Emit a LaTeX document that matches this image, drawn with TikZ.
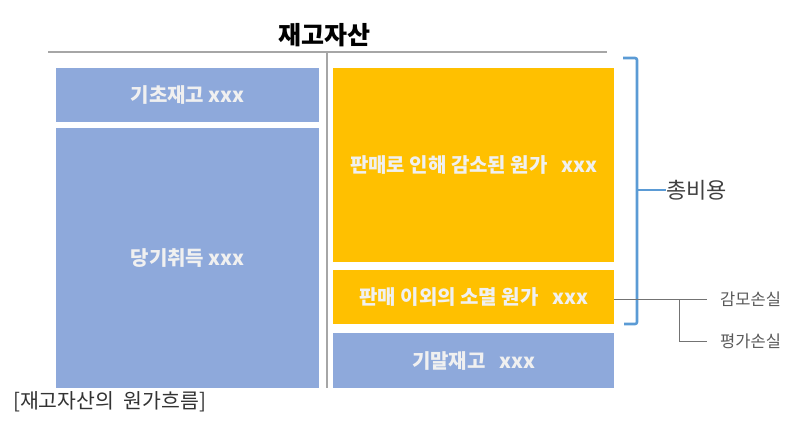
\documentclass[tikz,border=0pt]{standalone}
\usepackage{fontspec}
\setmainfont{Noto Sans CJK KR}
\usetikzlibrary{positioning}

\definecolor{boxblue}{HTML}{8EA9DB}
\definecolor{boxgold}{HTML}{FFC000}
\definecolor{brblue}{HTML}{5B9BD5}

\begin{document}
\begin{tikzpicture} [x = 1pt, y = -1pt,
  box/.style = {fill = #1, text = white!94!black, inner sep = 0pt, anchor = north west,
    font = \fontsize{20}{24}\selectfont\bfseries},
  lbl/.style = {text = black!65, inner sep = 0pt, anchor = west, font = \fontsize{16.5}{20}\selectfont},
  rule/.style = {draw = black!35, line width = 1.4pt}]
\useasboundingbox (0,0) rectangle (800,421);
% 제목과 구분선
\node (title) at (324,35) {\fontsize{25}{30}\selectfont\bfseries 재고자산};
\coordinate (hl) at (48,52);
\coordinate (hr) at (607,52);
\coordinate (vt) at (327,52);
\coordinate (vb) at (327,388);
\draw [rule] (hl) -- (hr);
\draw [rule] (vt) -- (vb);
% 왼쪽 (차변)
\node [box = boxblue, minimum width = 263pt, minimum height = 54pt] (kicho) at (56,68) {기초재고\ xxx};
\node [box = boxblue, minimum width = 263pt, minimum height = 260pt] (dangi) at (56,128) {당기취득\ xxx};
% 오른쪽 (대변)
\node [box = boxgold, minimum width = 281pt, minimum height = 194pt] (panmae) at (333,68) {판매로\ 인해\ 감소된\ 원가\ \ \ xxx};
\node [box = boxgold, minimum width = 281pt, minimum height = 54pt] (somyeol) at (333,270) {판매\ 이외의\ 소멸\ 원가\ \ \ xxx};
\node [box = boxblue, minimum width = 281pt, minimum height = 55pt] (gimal) at (333,333) {기말재고\ \ \ xxx};
% 총비용 괄호
\coordinate (brtop) at (623,58);
\coordinate (brbot) at (637,324);
\coordinate (brend) at (624,324);
\coordinate (brmid) at (637,190);
\node [lbl, text = black!75, font = \fontsize{22}{26}\selectfont] (total) at (666,190) {총비용};
\draw [brblue, line width = 2.6pt, rounded corners = 2pt] (brtop) -| (brbot) -- (brend);
\draw [brblue, line width = 2pt] (brmid) -- (total.west);
% 감모손실, 평가손실
\node [lbl] (gamo) at (720,299) {감모손실};
\node [lbl] (pyeong) at (720,341) {평가손실};
\coordinate (branch) at (679,299);
\draw [black!55, line width = .9pt, shorten >= 13pt] (somyeol.east |- gamo) -- (gamo.west);
\draw [black!55, line width = .9pt, shorten >= 13pt] (branch) |- (pyeong.west);
% 캡션
\node [lbl, text = black!80, font = \fontsize{20.5}{24}\selectfont] (caption) at (13,402) {[재고자산의\ \ 원가흐름]};
\end{tikzpicture}
\end{document}
